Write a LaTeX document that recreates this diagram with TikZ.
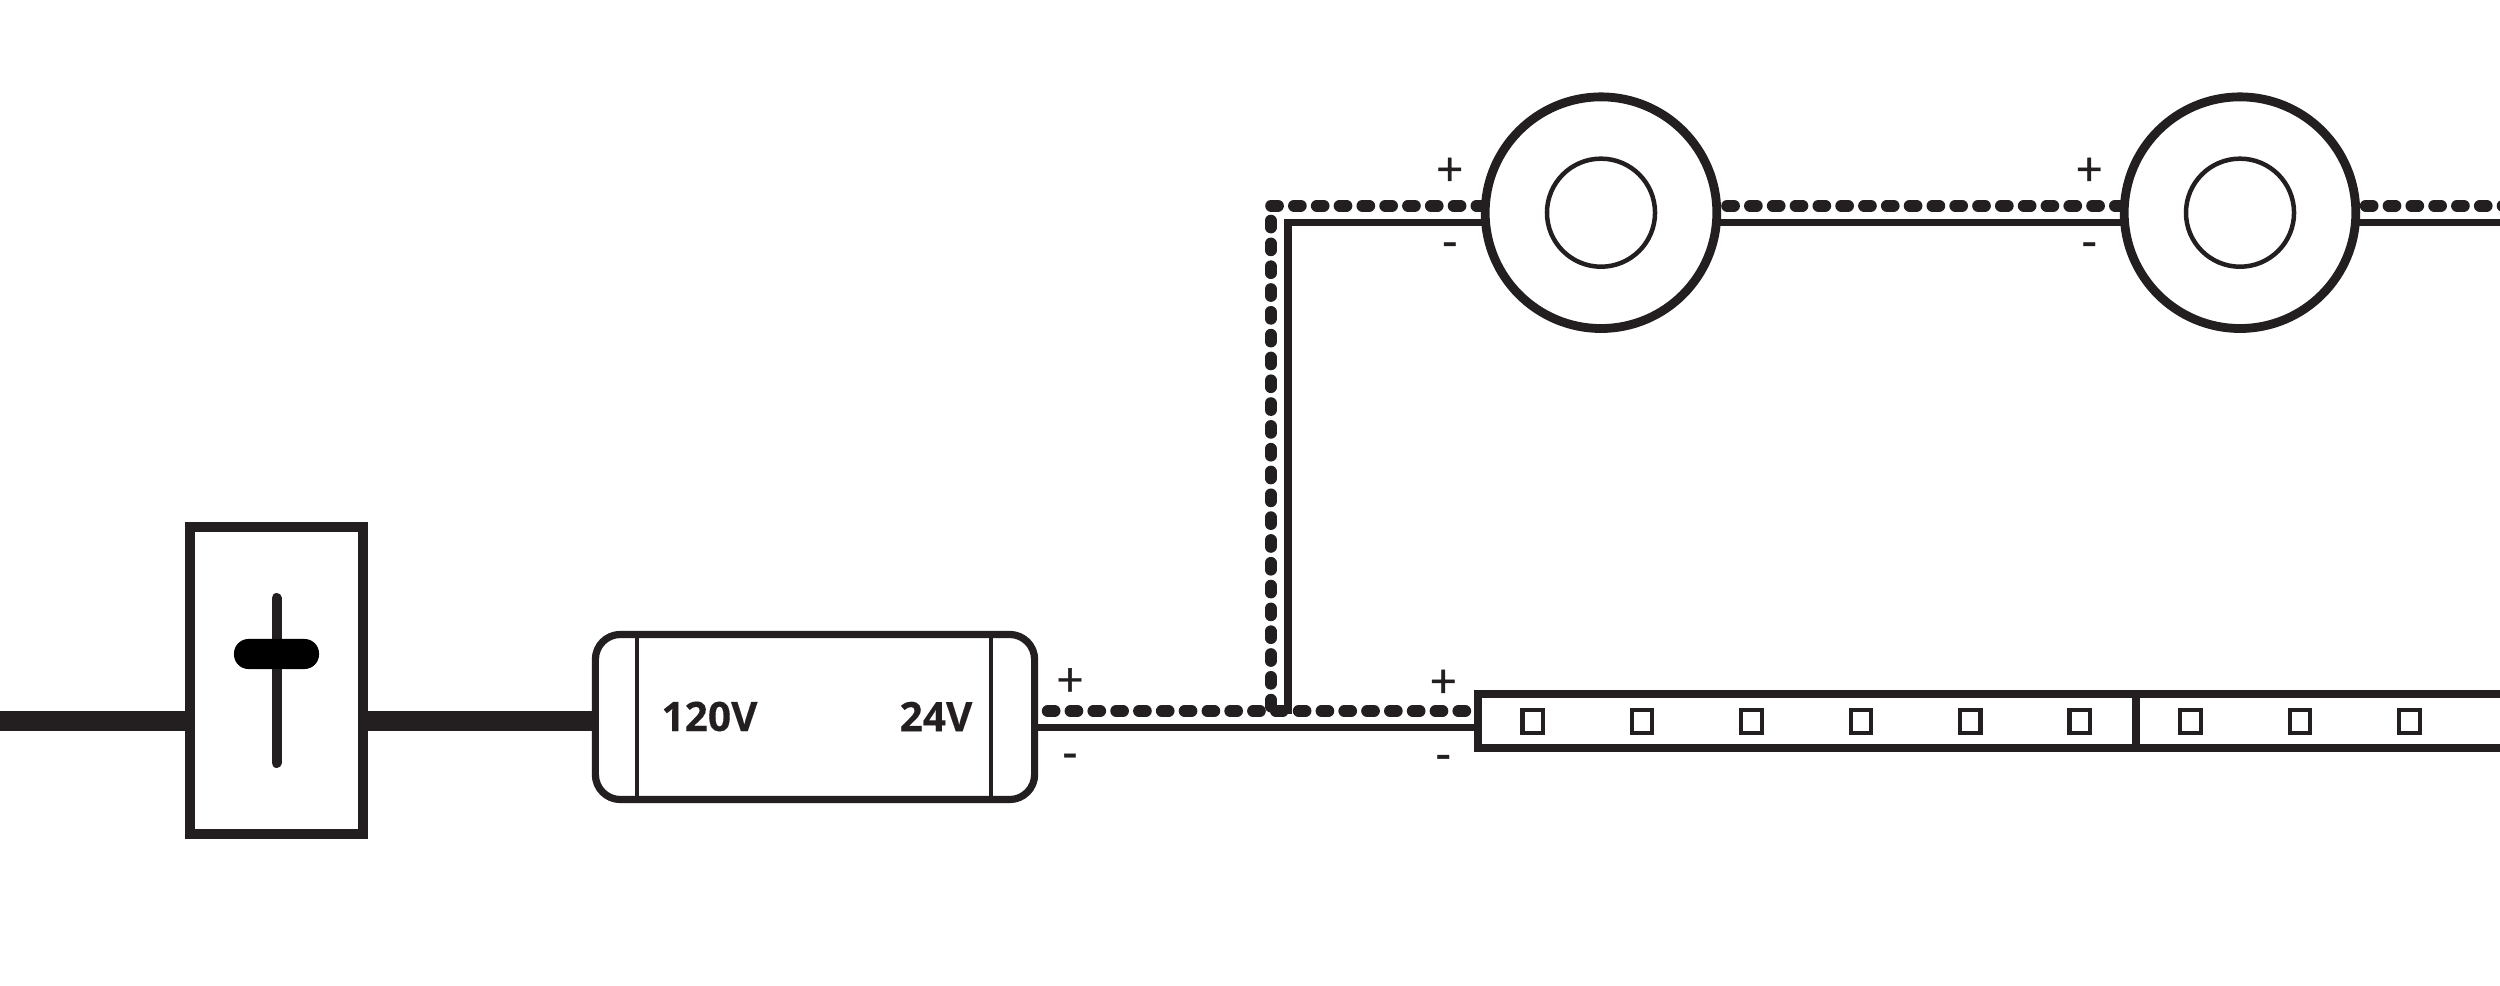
\documentclass[tikz,border=0pt]{standalone}
\usepackage{fontspec}
\setmainfont{Open Sans}
\definecolor{ink}{HTML}{231F20}
\tikzset{
  wireplus/.style={draw=ink,line width=0.118cm,line cap=round,dash pattern=on 0.069cm off 0.159cm},
  wireminus/.style={draw=ink,line width=0.075cm,line join=miter},
  mains/.style={draw=ink,line width=0.2cm},
  devbox/.style={draw=ink,fill=white,line width=0.105cm,inner sep=0,minimum width=1.725cm,minimum height=3.07cm},
  driverbox/.style={draw=ink,fill=white,line width=0.072cm,rounded corners=0.25cm,inner sep=0,minimum width=4.39cm,minimum height=1.65cm},
  slider/.style={draw=ink,line width=0.1cm,line cap=round},
  knob/.style={fill=black,rounded corners=0.145cm,inner sep=0,minimum width=0.85cm,minimum height=0.3cm},
  lamp/.style={circle,draw=ink,fill=white,line width=0.088cm,inner sep=0,minimum size=2.315cm},
  lampcore/.style={circle,draw=ink,fill=white,line width=0.045cm,inner sep=0,minimum size=1.08cm},
  stripcell/.style={draw=ink,line width=0.08cm},
  led/.style={draw=ink,line width=0.042cm,inner sep=0,minimum width=0.205cm,minimum height=0.23cm},
  divider/.style={draw=ink,line width=0.045cm},
  volt/.style={text=ink,inner sep=0,font=\fontsize{11.55}{14}\selectfont\bfseries\addfontfeature{FakeBold=0.3}},
  pole/.style={text=ink,inner sep=0,font=\fontsize{13.5}{16}\selectfont\addfontfeature{FakeBold=0.8}},
}
\begin{document}
\begin{tikzpicture}[x=0.01cm,y=-0.01cm]
\useasboundingbox (0,0) rectangle (2500,986);
\clip (0,0) rectangle (2500,986);
\fill[white] (0,0) rectangle (2500,986);

% named places
\coordinate (mainsIn) at (0,721);
\coordinate (drvPlus) at (1047.7,711);
\coordinate (drvMinus) at (1037,727.7);
\coordinate (stripPlus) at (1472,711);
\coordinate (riserBottom) at (1270.7,706.6);
\coordinate (riserTop) at (1270.7,214);
\coordinate (topStart) at (1271.1,205.7);
\coordinate (returnBottom) at (1288,714);
\coordinate (returnTop) at (1288,222.7);
\coordinate (outPlusA) at (1727.1,205.7);
\coordinate (inPlusB) at (2125,205.7);
\coordinate (outPlusB) at (2365.7,205.7);
\coordinate (endPlus) at (2510,205.7);
\coordinate (endMinus) at (2500,222.7);
\coordinate (stripEndTop) at (2500,694);
\coordinate (stripEndBot) at (2500,748);

% wires
\draw[wireplus] (drvPlus) -- (stripPlus);
\draw[wireplus] (riserBottom) -- (riserTop);
\draw[wireplus] (topStart) -- (1490,205.7);
\draw[wireplus] (outPlusA) -- (inPlusB);
\draw[wireplus] (outPlusB) -- (endPlus);
\draw[wireminus] (returnBottom) -- (returnTop) -- (1600,222.7) -- (2240,222.7);
\draw[wireminus] (2240,222.7) -- (endMinus);
\draw[wireminus] (drvMinus) -- (1480,727.7);

% switch
\node[devbox] (sw) at (276.5,680.5) {};
\draw[mains] (mainsIn) -- (sw.west |- mainsIn);
\draw[mains] (sw.east |- mainsIn) -- (600,721);
\coordinate (slTop) at (276.5,598);
\coordinate (slBot) at (276.5,763);
\draw[slider] (slTop) -- (slBot);
\node[knob] (swknob) at (276.5,654) {};

% driver
\node[driverbox] (drv) at (815,717) {};
\draw[divider] (637,634) -- (637,800);
\draw[divider] (991,634) -- (991,800);
\node[volt] (v120) at (709.5,716.5) {120V};
\node[volt] (v24) at (936,716.5) {24V};

% lamps
\node[lamp] (lampA) at (1601,212.7) {};
\node[lampcore] (coreA) at (lampA.center) {};
\node[lamp] (lampB) at (2240,212.7) {};
\node[lampcore] (coreB) at (lampB.center) {};

% LED strip
\draw[stripcell] (stripEndTop) -- (1478,694) -- (1478,748) -- (stripEndBot);
\draw[stripcell] (2135.7,690) -- (2135.7,752);
\foreach \i/\x in {1/1532.7,2/1642.1,3/1751.5,4/1860.9,5/1970.3,6/2079.8,7/2190.5,8/2300,9/2409.5}
  \node[led] (led\i) at (\x,721.5) {};

% polarity marks
\node[pole] (p1) at (1070,682.5) {+};
\node[pole] (m1) at (1070,761) {-};
\node[pole] (p2) at (1443.3,684) {+};
\node[pole] (m2) at (1443.3,762.3) {-};
\node[pole] (p3) at (1449.7,172) {+};
\node[pole] (m3) at (1449.7,249.7) {-};
\node[pole] (p4) at (2089.3,172) {+};
\node[pole] (m4) at (2089.3,249.7) {-};
\end{tikzpicture}
\end{document}
